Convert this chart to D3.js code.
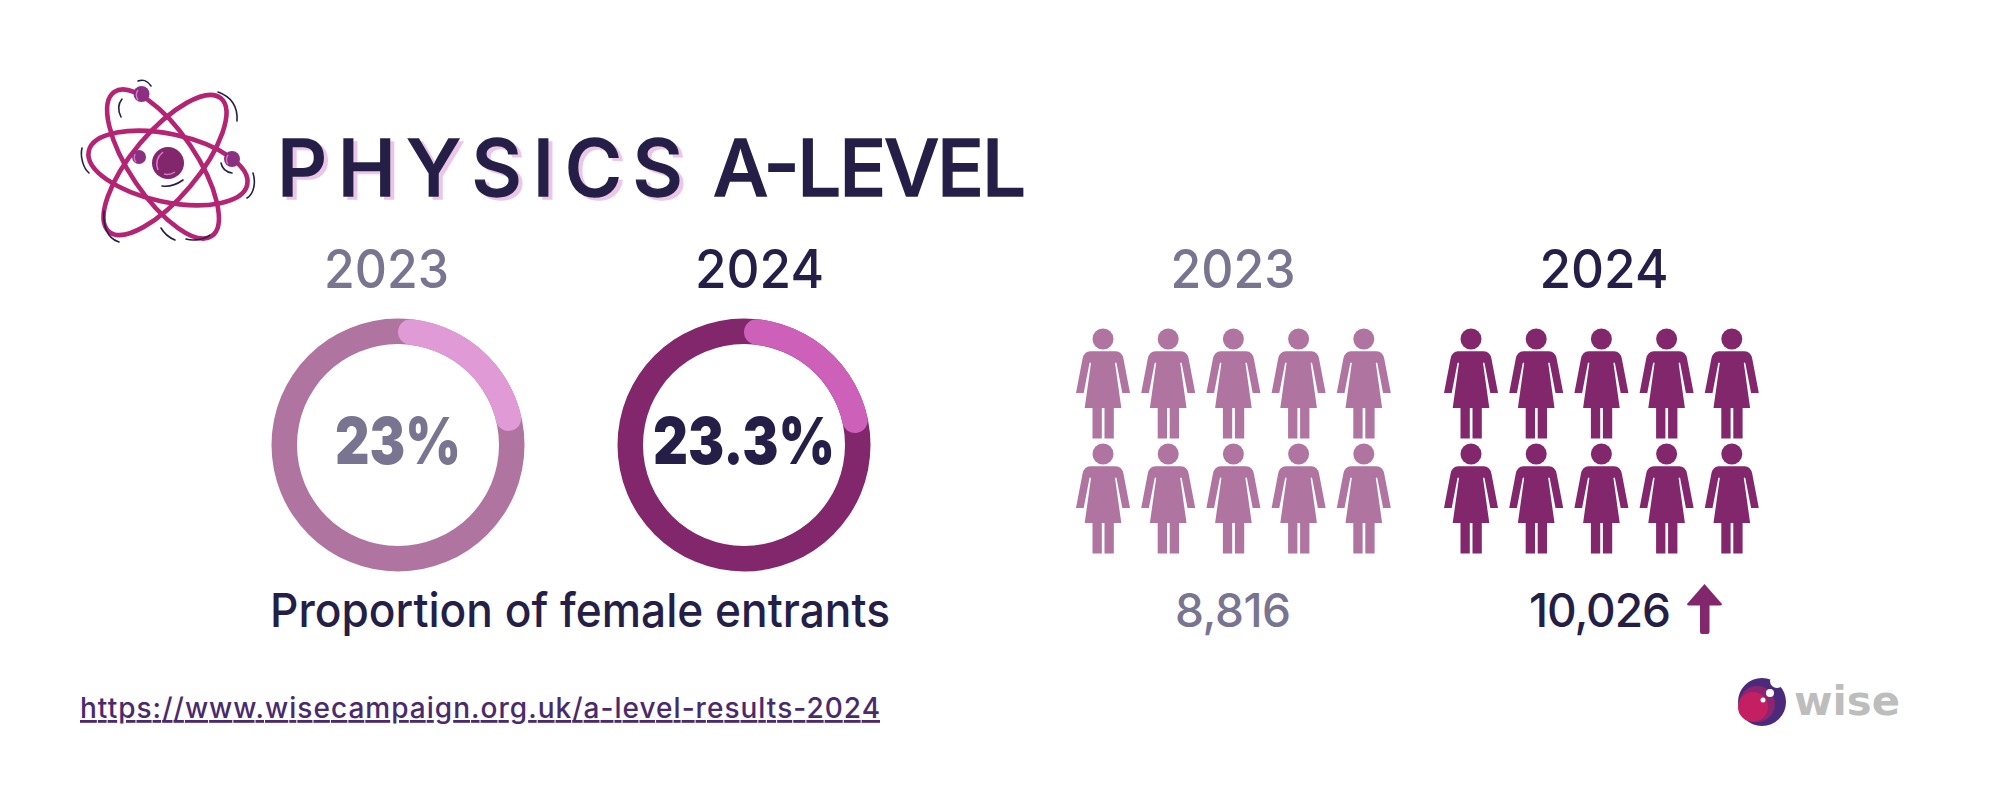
<!DOCTYPE html>
<html><head><meta charset="utf-8">
<script src="https://cdn.jsdelivr.net/npm/d3@7"></script>
<style>html,body{margin:0;padding:0;background:#fff}svg{display:block}</style>
</head><body><svg id="c" width="2000" height="800"></svg>
<script>
// ---- data ----
const years = ["2023", "2024"];
const femaleShare = [23, 23.3];
const shareLabels = ["23%", "23.3%"];
const femaleEntrants = ["8,816", "10,026"];
const iconColumns = [0, 1, 2, 3, 4];
const iconRows = [0, 1];
const titleWords = ["PHYSICS", "A-LEVEL"];
const subtitle = "Proportion of female entrants";
const linkText = "https://www.wisecampaign.org.uk/a-level-results-2024";
const logoWord = "wise";

// ---- style ----
const font = "Inter, Lato, sans-serif";
const ink = "#251f47", fade = "#797590";
const ringBase = ["#af74a0", "#82276c"];
const ringHigh = ["#e09ad6", "#cd60b8"];
const textCol = [fade, ink];
const iconCol = ["#af74a0", "#82276c"];

const svg = d3.select("#c");

function fitText(g, str, x, y, size, weight, fill, len, anchor, adjust) {
  return g.append("text").attr("x", x).attr("y", y).attr("font-family", font)
    .attr("font-size", size).attr("font-weight", weight).attr("fill", fill)
    .attr("text-anchor", anchor || "start").attr("textLength", len)
    .attr("lengthAdjust", adjust || "spacing").text(str);
}

// ---- atom logo ----
const atom = svg.append("g").attr("fill", "none");
[[168,168,81,34,12],[163,164,87,33,56],[165,165,87,33,130]].forEach(e => {
  atom.append("ellipse").attr("cx",e[0]).attr("cy",e[1]).attr("rx",e[2]).attr("ry",e[3])
    .attr("transform",`rotate(${e[4]} ${e[0]} ${e[1]})`)
    .attr("stroke","#b42473").attr("stroke-width",4.6);
});
atom.append("circle").attr("cx",168).attr("cy",163).attr("r",16).attr("fill","#82276c");
atom.append("path").attr("d","M158 170C155 162 158 156 163 152").attr("stroke","#d977c8").attr("stroke-width",1.6);
atom.append("path").attr("d","M164 174C168 175 172 174 175 172").attr("stroke","#d977c8").attr("stroke-width",1.4);
[[141.5,94,8],[139,157,7],[232,159,8]].forEach(p => {
  atom.append("circle").attr("cx",p[0]).attr("cy",p[1]).attr("r",p[2]).attr("fill","#8b2f80");
});
["M138 90C136 93 136 97 138 100","M135 154C134 157 134 160 136 162","M228 155C226 158 226 162 228 164"].forEach(d=>{
  atom.append("path").attr("d",d).attr("stroke","#d977c8").attr("stroke-width",1.4);
});
["M122 99C118 104 118 111 121 117","M138 81C143 79 148 81 151 86",
 "M218 92C232 97 238 106 237 121","M82 148C80 156 83 168 89 173",
 "M253 173C256 182 254 194 247 198","M221 163C222 168 226 172 232 173",
 "M162 186C169 187 176 185 183 180","M104 211C103 224 106 238 119 242",
 "M161 228C165 235 170 238 175 240","M186 239C193 241 204 240 210 235"].forEach(d=>{
  atom.append("path").attr("d",d).attr("stroke",ink).attr("stroke-width",1.6).attr("stroke-linecap","round");
});

// ---- title ----
const title = svg.append("g");
fitText(title, titleWords[0], 281, 199, 78, 500, "#ecc6e6", 406).attr("stroke", "#ecc6e6").attr("stroke-width", 1.4);
fitText(title, titleWords[0], 277, 196, 78, 500, ink, 406).attr("stroke", ink).attr("stroke-width", 1.4);
fitText(title, titleWords[1], 713, 196, 78, 500, ink, 313).attr("stroke", ink).attr("stroke-width", 1.4);

// ---- donuts ----
const xRing = d3.scalePoint().domain(years).range([398, 744]);
const yRing = 445;
const arcRing = d3.arc().innerRadius(101).outerRadius(126.5);
const arcHigh = d3.arc().innerRadius(101).outerRadius(126.5).cornerRadius(12.7);
const toAngle = d3.scaleLinear().domain([0, 100]).range([0, 2 * Math.PI]);
const labelWidths = [126, 182];

years.forEach((yr, i) => {
  const g = svg.append("g").attr("transform", `translate(${xRing(yr)},${yRing})`);
  g.append("path").attr("d", arcRing({startAngle: 0, endAngle: 2 * Math.PI})).attr("fill", ringBase[i]);
  g.append("path").attr("d", arcHigh({startAngle: 0, endAngle: toAngle(femaleShare[i])})).attr("fill", ringHigh[i]);
  fitText(g, shareLabels[i], 0, 19, 65, 900, textCol[i], labelWidths[i], "middle", "spacingAndGlyphs");
});

// year labels
const yearCentres = [[386.5, 759.5], [1233, 1604]];
const yearWidths = [125, 129];
yearCentres.forEach(cs => cs.forEach((cx, i) => {
  fitText(svg, years[i], cx, 287.5, 54, 500, textCol[i], yearWidths[i], "middle", "spacingAndGlyphs");
}));

fitText(svg, subtitle, 270, 627, 47, 500, ink, 620, "start", "spacingAndGlyphs");

// ---- pictograms ----
const groupX = d3.scalePoint().domain(years).range([1103, 1471]);
const colX = d3.scaleLinear().domain([0, 1]).range([0, 65.2]);
const rowY = d3.scaleLinear().domain([0, 1]).range([339, 454]);
const womanBody = "M-12.7 12.3H12.7Q19 12.3 20.5 20L27 54H19.3L13.5 24Q12.8 23 12 24L18.3 69H-18.3L-12 24Q-12.8 23 -13.5 24L-19.3 54H-27L-20.5 20Q-19 12.3 -12.7 12.3Z";
const womanLegs = "M-10.5 68.5H-1.2V99.5H-10.5ZM1.5 68.5H10.8V99.5H1.5Z";
years.forEach((yr, i) => {
  iconRows.forEach(r => iconColumns.forEach(c => {
    const g = svg.append("g").attr("transform", `translate(${groupX(yr) + colX(c)},${rowY(r)})`).attr("fill", iconCol[i]);
    g.append("circle").attr("r", 10.5);
    g.append("path").attr("d", womanBody);
    g.append("path").attr("d", womanLegs);
  }));
});

// counts
fitText(svg, femaleEntrants[0], 1233, 627, 46, 500, fade, 116, "middle");
fitText(svg, femaleEntrants[1], 1600, 627, 46, 500, ink, 142, "middle");

// arrow
svg.append("path").attr("d", "M1704.5 584L1722 604Q1722 605.5 1720 605.5H1709.5V632Q1709.5 634 1707.5 634H1702Q1700 634 1700 632V605.5H1689Q1687 605.5 1687 604Z").attr("fill", "#82276c");

// link
fitText(svg, linkText, 80, 718, 28, 500, "#4a2a6c", 800).attr("text-decoration", "underline");

// wise logo
const logo = svg.append("g");
logo.append("circle").attr("cx", 1762).attr("cy", 702).attr("r", 24).attr("fill", "#4b2a7b");
logo.append("circle").attr("cx", 1757).attr("cy", 704).attr("r", 18).attr("fill", "#8b2570");
logo.append("circle").attr("cx", 1753).attr("cy", 707).attr("r", 15).attr("fill", "#c41f63");
logo.append("circle").attr("cx", 1777).attr("cy", 681).attr("r", 7).attr("fill", "#fff");
logo.append("circle").attr("cx", 1770).attr("cy", 693).attr("r", 4).attr("fill", "#fff");
logo.append("circle").attr("cx", 1763).attr("cy", 700).attr("r", 2.5).attr("fill", "#fff");
svg.append("text").attr("x", 1794).attr("y", 715).attr("font-family", "DejaVu Sans, sans-serif")
  .attr("font-size", 41).attr("font-weight", 700).attr("fill", "#bdbdbd")
  .attr("textLength", 106).attr("lengthAdjust", "spacingAndGlyphs").text(logoWord);
</script></body></html>
